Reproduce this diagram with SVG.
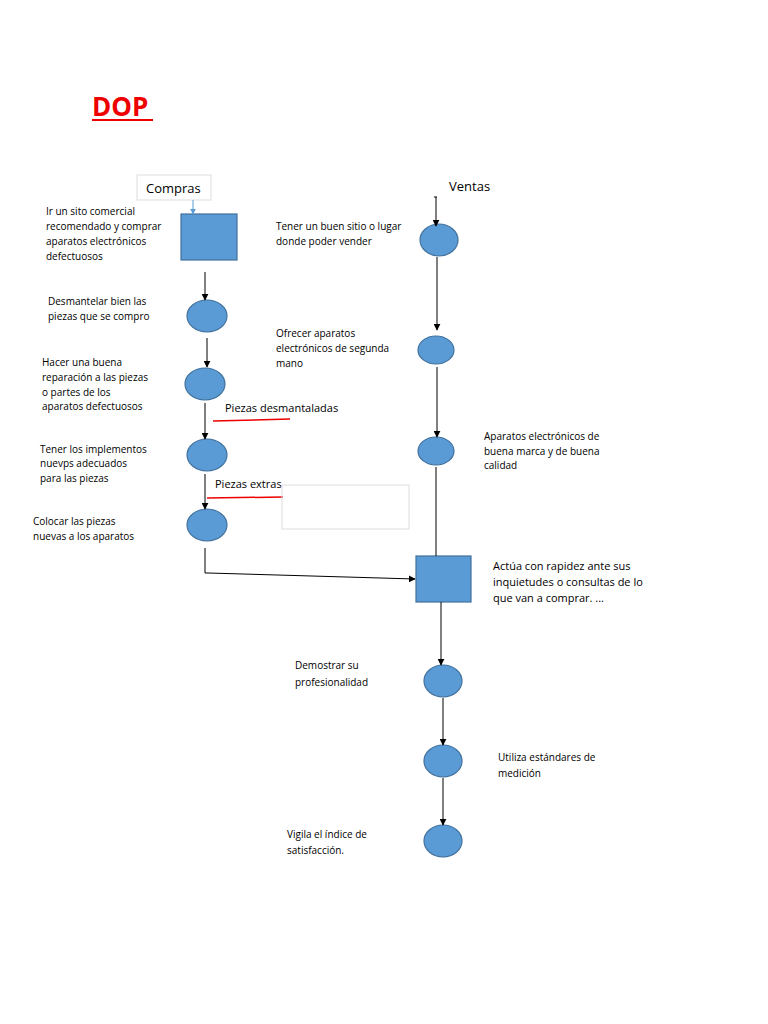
<svg xmlns="http://www.w3.org/2000/svg" width="768" height="1024" viewBox="0 0 768 1024">
<style>
text{font-family:"Open Sans","Liberation Sans",sans-serif;fill:#000;font-size:10px}
.b{font-size:11px}
.n{fill:#5b9bd5;stroke:#41719c;stroke-width:1.2}
.c{stroke:#000;stroke-width:1;fill:none}
.r{stroke:#e00;stroke-width:1.5;fill:none}
</style>
<defs><marker id="a" viewBox="0 0 10 10" refX="9" refY="5" markerWidth="7" markerHeight="7" orient="auto"><path d="M0,0L10,5L0,10z" fill="#000"/></marker>
<marker id="ab" viewBox="0 0 10 10" refX="9" refY="5" markerWidth="6" markerHeight="6" orient="auto"><path d="M0,0L10,5L0,10z" fill="#5b9bd5"/></marker></defs>
<rect width="768" height="1024" fill="#fff"/>
<text x="92" y="116" style="font-size:26px;font-weight:bold;fill:#e00">DOP</text>
<line x1="92" y1="120" x2="153" y2="120" stroke="#e00" stroke-width="2"/>
<g id="compras"><rect x="137" y="175" width="74" height="25" fill="#fff" stroke="#ddd"/><text x="146" y="193" style="font-size:13px">Compras</text></g>
<g id="ventas"><text x="449" y="191" style="font-size:13px">Ventas</text></g>
<g id="c1"><rect class="n" x="181" y="214" width="56" height="46"/><text x="46" y="215">Ir un sito comercial</text><text x="46" y="230">recomendado y comprar</text><text x="46" y="245">aparatos electrónicos</text><text x="46" y="260">defectuosos</text></g>
<g id="c2"><ellipse class="n" cx="207" cy="316" rx="20" ry="16"/><text x="48" y="305">Desmantelar bien las</text><text x="48" y="320">piezas que se compro</text></g>
<g id="c3"><ellipse class="n" cx="205" cy="384" rx="20" ry="16"/><text x="42" y="366">Hacer una  buena</text><text x="42" y="381">reparación a las piezas</text><text x="42" y="396">o partes de los</text><text x="42" y="410">aparatos defectuosos</text></g>
<g id="c4"><ellipse class="n" cx="207" cy="455" rx="20" ry="16"/><text x="40" y="453">Tener los implementos</text><text x="40" y="467">nuevps adecuados</text><text x="40" y="482">para las piezas</text></g>
<g id="c5"><ellipse class="n" cx="207" cy="525" rx="20" ry="16"/><text x="33" y="525">Colocar las piezas</text><text x="33" y="540">nuevas a los aparatos</text></g>
<g id="l1"><text x="225" y="412" class="b">Piezas desmantaladas</text><path class="r" d="M213,421 L290,419"/></g>
<g id="l2"><text x="215" y="488" class="b">Piezas extras</text><path class="r" d="M207,498 L283,497"/><rect x="282" y="485" width="127" height="44" fill="none" stroke="#ddd"/></g>
<g id="v1"><ellipse class="n" cx="439" cy="240" rx="19" ry="16"/><text x="276" y="230">Tener un buen sitio o lugar</text><text x="276" y="245">donde poder vender</text></g>
<g id="v2"><ellipse class="n" cx="436" cy="350" rx="18" ry="14"/><text x="276" y="337">Ofrecer aparatos</text><text x="276" y="352">electrónicos de segunda</text><text x="276" y="367">mano</text></g>
<g id="v3"><ellipse class="n" cx="436" cy="451" rx="18" ry="14"/><text x="484" y="440">Aparatos electrónicos de</text><text x="484" y="455">buena marca y de buena</text><text x="484" y="469">calidad</text></g>
<g id="v4"><rect class="n" x="416" y="556" width="55" height="46"/><text class="b" x="493" y="570">Actúa con rapidez ante sus</text><text class="b" x="493" y="586">inquietudes o consultas de lo</text><text class="b" x="493" y="602">que van a comprar. ...</text></g>
<g id="v5"><ellipse class="n" cx="443" cy="681" rx="19" ry="16"/><text x="295" y="669">Demostrar su</text><text x="295" y="686">profesionalidad</text></g>
<g id="v6"><ellipse class="n" cx="443" cy="761" rx="19" ry="16"/><text x="498" y="761">Utiliza estándares de</text><text x="498" y="777">medición</text></g>
<g id="v7"><ellipse class="n" cx="443" cy="841" rx="19" ry="16"/><text x="287" y="838">Vigila el índice de</text><text x="287" y="854">satisfacción.</text></g>
<g id="connectors">
<line x1="193" y1="200" x2="193" y2="214" stroke="#5b9bd5" marker-end="url(#ab)"/>
<line class="c" x1="205" y1="272" x2="205" y2="300" marker-end="url(#a)"/>
<line class="c" x1="207" y1="338" x2="207" y2="367" marker-end="url(#a)"/>
<line class="c" x1="205" y1="403" x2="205" y2="439" stroke="#888" marker-end="url(#a)"/>
<line class="c" x1="205" y1="474" x2="205" y2="509" marker-end="url(#a)"/>
<polyline class="c" points="205,548 205,573 208,573 415,579" marker-end="url(#a)"/>
<line class="c" x1="434" y1="197" x2="437" y2="197"/>
<line class="c" x1="436" y1="197" x2="436" y2="226" marker-end="url(#a)"/>
<line class="c" x1="437" y1="257" x2="437" y2="330" marker-end="url(#a)"/>
<line class="c" x1="437" y1="367" x2="437" y2="437" marker-end="url(#a)"/>
<line class="c" x1="436" y1="467" x2="436" y2="556"/>
<line class="c" x1="441" y1="602" x2="441" y2="665" marker-end="url(#a)"/>
<line class="c" x1="443" y1="698" x2="443" y2="745" marker-end="url(#a)"/>
<line class="c" x1="443" y1="778" x2="443" y2="825" marker-end="url(#a)"/>
</g>
</svg>
